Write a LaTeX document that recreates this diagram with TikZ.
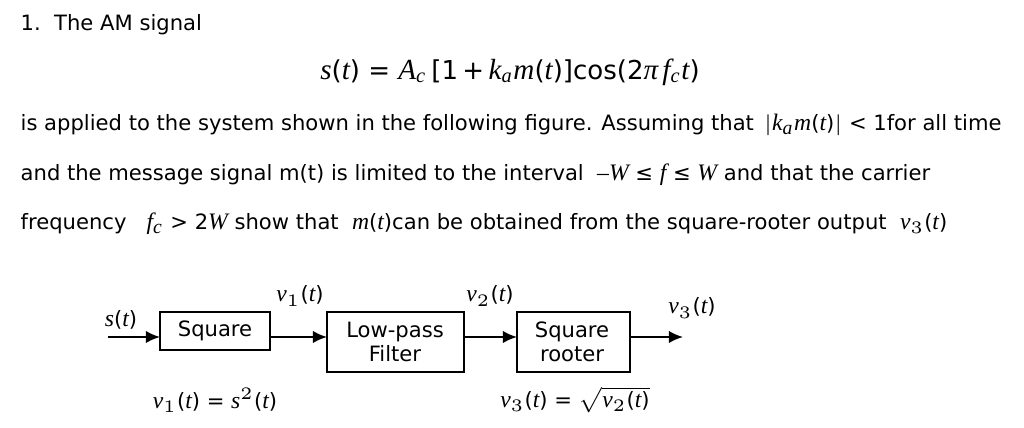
\documentclass[tikz,border=0pt]{standalone}
\usepackage{amsmath}
\usepackage{fontspec}
\setmainfont{DejaVu Sans}
\newfontfamily\tms[Scale=1.12]{Liberation Serif}
\usetikzlibrary{arrows.meta}
\newcommand{\mi}[1]{\text{\tms\itshape #1}}
\begin{document}
\begin{tikzpicture}[x=0.01cm,y=-0.01cm,
  txt/.style={anchor=west,inner sep=0,font=\fontsize{6pt}{6.5pt}\selectfont},
  lbl/.style={inner sep=0,font=\fontsize{6pt}{7pt}\selectfont},
  arr/.style={-{Latex[length=4pt,width=3.5pt]},line width=0.5pt}]
\useasboundingbox (0,0) rectangle (1024,428);
\node[txt] (l1) at (20,25) {1.\ \ The AM signal};
\node[lbl] (f) at (510,72) {\fontsize{7.4pt}{8pt}\selectfont \mi{s}(\mi{t}) = \mi{A}$_{\mi{c}}$\,[1\,+\,\mi{k}$_{\mi{a}}$\mi{m}(\mi{t})]cos(2\mi{π}\,\mi{f}$_{\mi{c}}$\mi{t})};
\node[txt] (l2) at (20,125) {is applied to the system shown in the following figure. Assuming that \,$|$\mi{k}$_{\mi{a}}$\mi{m}(\mi{t})$|$ < 1for all time};
\node[txt] (l3) at (20,175) {and the message signal m(t) is limited to the interval \ {\tms –\itshape W} ≤ \mi{f} ≤ \mi{W} and that the carrier};
\node[txt] (l4) at (20,224) {frequency \ \ \mi{f}$_{\mi{c}}$ > 2\mi{W} show that \ \mi{m}(\mi{t})can be obtained from the square-rooter output \ \mi{v}$_3$(\mi{t})};
\draw[line width=0.5pt] (160,312) rectangle (270,350);
\node[lbl] (sqt) at (215,331) {Square};
\draw[line width=0.5pt] (327,312) rectangle (464,372);
\node[lbl,align=center] (lp) at (395,342) {Low-pass\\Filter};
\draw[line width=0.5pt] (517,312) rectangle (630,372);
\node[lbl,align=center] (sr) at (572,342) {Square\\rooter};
\coordinate (in) at (108,337);
\coordinate (a1) at (160,337);
\coordinate (a2) at (270,337);
\coordinate (a3) at (327,337);
\coordinate (a4) at (464,337);
\coordinate (a5) at (517,337);
\coordinate (a6) at (630,337);
\coordinate (out) at (683,337);
\draw[arr] (in) -- (a1);
\draw[arr] (a2) -- (a3);
\draw[arr] (a4) -- (a5);
\draw[arr] (a6) -- (out);
\node[lbl] (s) at (121,320) {\mi{s}(\mi{t})};
\node[lbl] (v1) at (300,296) {\mi{v}$_1$(\mi{t})};
\node[lbl] (v2) at (490,296) {\mi{v}$_2$(\mi{t})};
\node[lbl] (v3) at (692,308) {\mi{v}$_3$(\mi{t})};
\node[lbl] (e1) at (215,400) {\mi{v}$_1$(\mi{t}) = \mi{s}$^2$(\mi{t})};
\node[lbl] (e2) at (575,400) {\mi{v}$_3$(\mi{t}) = $\sqrt{\mbox{\mi{v}$_2$(\mi{t})}}$};
\end{tikzpicture}
\end{document}
